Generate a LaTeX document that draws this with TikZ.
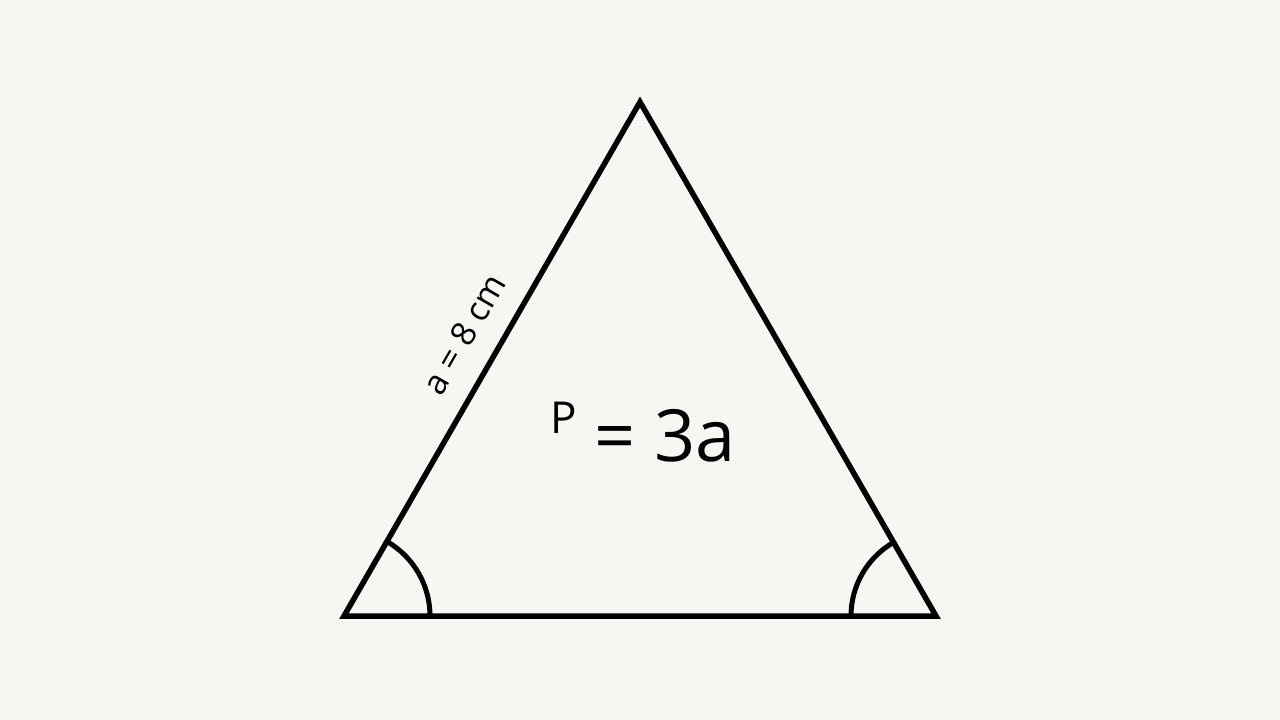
\documentclass[tikz,border=0pt]{standalone}
\usepackage{fontspec}
\setmainfont{Open Sans}
\definecolor{bg}{RGB}{247,246,243}
\begin{document}
\begin{tikzpicture}[x=1pt,y=-1pt,
  edge/.style={line width=5.5pt,line join=miter,black},
  anglearc/.style={line width=5pt,black},
  lbl/.style={inner sep=0pt,font=\fontsize{34}{34}\selectfont}]
\fill[bg] (0,0) rectangle (1280,720);
\useasboundingbox (0,0) rectangle (1280,720);
\coordinate (A) at (640,102);
\coordinate (B) at (344,616);
\coordinate (C) at (936,616);
\draw[edge] (A) -- (B) -- (C) -- cycle;
\draw[anglearc] (430,616) arc[start angle=0,end angle=60,radius=86pt];
\draw[anglearc] (851,616) arc[start angle=180,end angle=120,radius=85pt];
\node[lbl,rotate=60] (side) at (464,334) {a = 8 cm};
\node[inner sep=0pt,font=\fontsize{44}{44}\selectfont] (P) at (564,418) {P};
\node[inner sep=0pt,anchor=west,font=\fontsize{72}{72}\selectfont] (eq) at (594,436) {= 3a};
\end{tikzpicture}
\end{document}
